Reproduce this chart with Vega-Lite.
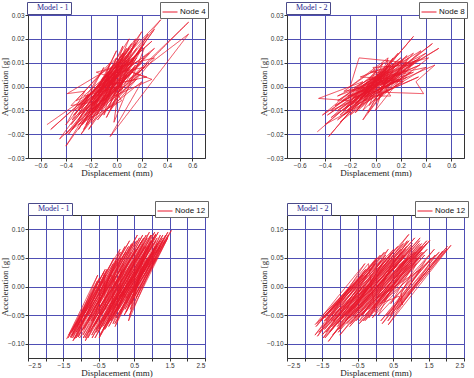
{
"$schema": "https://vega.github.io/schema/vega-lite/v6.json",
"background": "white",
"padding": {"left": 0, "top": 1, "right": 0, "bottom": 0},
"datasets": {
"n4": [{"x":-0.55,"y":-0.016},{"x":-0.2,"y":-0.003},{"x":-0.52,"y":-0.018},{"x":-0.06,"y":0.004},{"x":-0.4,"y":-0.025},{"x":0.1,"y":0.012},{"x":-0.3,"y":-0.008},{"x":0.35,"y":0.028},{"x":-0.1,"y":-0.002},{"x":0.2,"y":0.016},{"x":-0.25,"y":-0.012},{"x":0.05,"y":0.008},{"x":-0.38,"y":-0.02},{"x":0.15,"y":0.018},{"x":-0.15,"y":-0.004},{"x":0.25,"y":0.022},{"x":-0.05,"y":-0.006},{"x":0.57,"y":0.027},{"x":0.1,"y":0.003},{"x":0.57,"y":0.022},{"x":-0.05,"y":-0.021},{"x":0.2,"y":0.002},{"x":-0.2,"y":-0.015},{"x":0.02,"y":0.01},{"x":-0.39,"y":-0.003},{"x":-0.25,"y":-0.002},{"x":-0.4,"y":-0.016},{"x":0.0,"y":0.009},{"x":-0.3,"y":-0.014},{"x":0.1,"y":0.02},{"x":-0.12,"y":-0.008},{"x":0.22,"y":0.012},{"x":0.05,"y":0.002},{"x":0.3,"y":0.016},{"x":-0.1,"y":0.0},{"x":0.24,"y":0.004},{"x":0.12,"y":0.006},{"x":0.28,"y":0.003},{"x":-0.02,"y":-0.004},{"x":0.18,"y":0.014},{"x":-0.35,"y":-0.014},{"x":-0.1,"y":0.008},{"x":-0.3,"y":-0.012},{"x":0.12,"y":0.007},{"x":-0.22,"y":-0.018},{"x":0.0,"y":0.002},{"x":-0.32,"y":-0.006},{"x":-0.05,"y":0.01},{"x":-0.18,"y":-0.011},{"x":0.15,"y":0.009},{"x":-0.08,"y":-0.013},{"x":0.08,"y":0.005},{"x":-0.28,"y":-0.02},{"x":-0.1,"y":-0.005},{"x":0.08,"y":0.016},{"x":-0.2,"y":-0.006},{"x":0.15,"y":0.02},{"x":0.02,"y":-0.002},{"x":0.25,"y":0.01},{"x":-0.15,"y":-0.014},{"x":0.05,"y":0.0},{"x":-0.26,"y":-0.004},{"x":0.1,"y":0.013},{"x":-0.06,"y":-0.009},{"x":0.18,"y":0.005},{"x":-0.35,"y":-0.018},{"x":-0.15,"y":-0.001},{"x":0.0,"y":0.015},{"x":-0.2,"y":-0.008},{"x":0.13,"y":0.011},{"x":-0.12,"y":0.003},{"x":0.05,"y":0.012},{"x":-0.02,"y":-0.015},{"x":0.22,"y":0.016},{"x":-0.18,"y":-0.002},{"x":0.28,"y":0.019},{"x":-0.08,"y":0.002},{"x":0.12,"y":0.015},{"x":-0.33,"y":-0.01},{"x":0.03,"y":0.005},{"x":-0.24,"y":-0.01},{"x":0.2,"y":0.023},{"x":-0.04,"y":0.001},{"x":0.16,"y":0.003},{"x":-0.14,"y":-0.01},{"x":0.08,"y":0.011},{"x":-0.4,"y":-0.02},{"x":-0.12,"y":-0.006},{"x":-0.36,"y":-0.008},{"x":0.0,"y":0.012},{"x":-0.22,"y":-0.011},{"x":0.06,"y":0.002},{"x":-0.16,"y":0.006},{"x":0.3,"y":0.012},{"x":-0.05,"y":-0.01},{"x":0.14,"y":0.012},{"x":-0.27,"y":-0.016},{"x":0.1,"y":0.008},{"x":-0.1,"y":-0.012},{"x":0.05,"y":0.017},{"x":-0.2,"y":-0.01},{"x":0.22,"y":0.008},{"x":-0.08,"y":0.005},{"x":0.04,"y":-0.006},{"x":-0.3,"y":-0.016},{"x":0.0,"y":0.0},{"x":-0.45,"y":-0.022},{"x":0.05,"y":0.014},{"x":-0.3,"y":-0.018},{"x":0.18,"y":0.02},{"x":-0.2,"y":-0.012},{"x":0.3,"y":0.024},{"x":-0.1,"y":-0.006},{"x":0.2,"y":0.01},{"x":-0.25,"y":-0.014},{"x":-0.02,"y":0.006},{"x":-0.36,"y":-0.016},{"x":0.08,"y":0.012},{"x":-0.18,"y":-0.008},{"x":0.12,"y":0.018},{"x":-0.28,"y":-0.008},{"x":0.0,"y":0.004},{"x":-0.22,"y":-0.014},{"x":0.16,"y":0.016},{"x":-0.14,"y":-0.006},{"x":0.26,"y":0.014},{"x":-0.06,"y":0.002},{"x":0.1,"y":0.01},{"x":-0.3,"y":-0.01},{"x":-0.04,"y":0.008},{"x":-0.24,"y":-0.016},{"x":0.14,"y":0.008},{"x":-0.16,"y":-0.012},{"x":0.06,"y":0.014},{"x":-0.34,"y":-0.012},{"x":0.02,"y":0.006},{"x":-0.12,"y":-0.01},{"x":0.22,"y":0.018},{"x":-0.08,"y":-0.004},{"x":0.16,"y":0.012},{"x":-0.26,"y":-0.018},{"x":-0.05,"y":0.004},{"x":0.1,"y":0.016},{"x":-0.18,"y":-0.004},{"x":0.04,"y":0.009},{"x":-0.1,"y":-0.008}],
"n8": [{"x":-0.46,"y":-0.019},{"x":0.0,"y":0.002},{"x":-0.37,"y":-0.021},{"x":0.3,"y":0.021},{"x":-0.1,"y":-0.004},{"x":0.45,"y":0.018},{"x":0.05,"y":0.001},{"x":0.5,"y":0.016},{"x":-0.2,"y":-0.006},{"x":-0.45,"y":-0.005},{"x":-0.1,"y":0.002},{"x":-0.42,"y":-0.012},{"x":0.1,"y":0.006},{"x":-0.25,"y":-0.01},{"x":0.2,"y":0.012},{"x":-0.15,"y":-0.002},{"x":0.38,"y":-0.003},{"x":0.32,"y":0.002},{"x":0.47,"y":0.009},{"x":0.0,"y":-0.002},{"x":-0.3,"y":-0.014},{"x":0.15,"y":0.008},{"x":-0.1,"y":-0.014},{"x":0.25,"y":0.01},{"x":-0.13,"y":0.012},{"x":-0.2,"y":0.0},{"x":0.1,"y":0.012},{"x":-0.05,"y":-0.008},{"x":0.3,"y":0.014},{"x":-0.3,"y":-0.006},{"x":0.05,"y":0.007},{"x":-0.2,"y":-0.012},{"x":0.2,"y":0.005},{"x":-0.08,"y":-0.002},{"x":0.35,"y":0.012},{"x":0.0,"y":-0.006},{"x":0.25,"y":0.004},{"x":-0.35,"y":-0.01},{"x":0.0,"y":0.006},{"x":-0.15,"y":-0.008},{"x":0.15,"y":0.002},{"x":-0.25,"y":-0.002},{"x":0.1,"y":0.011},{"x":0.03,"y":-0.004},{"x":0.4,"y":0.008},{"x":-0.05,"y":0.003},{"x":0.22,"y":0.002},{"x":-0.4,"y":-0.016},{"x":0.05,"y":0.004},{"x":-0.1,"y":-0.01},{"x":0.28,"y":0.009},{"x":-0.02,"y":0.008},{"x":0.12,"y":-0.004},{"x":-0.22,"y":-0.004},{"x":0.3,"y":0.006},{"x":-0.12,"y":-0.005},{"x":0.18,"y":0.014},{"x":-0.28,"y":-0.012},{"x":0.08,"y":0.002},{"x":-0.18,"y":-0.002},{"x":0.36,"y":0.015},{"x":0.02,"y":-0.002},{"x":0.2,"y":0.008},{"x":-0.32,"y":-0.008},{"x":0.1,"y":0.004},{"x":-0.06,"y":-0.011},{"x":0.26,"y":0.012},{"x":-0.16,"y":-0.007},{"x":0.14,"y":0.006},{"x":-0.04,"y":0.006},{"x":0.42,"y":0.012},{"x":0.08,"y":-0.002},{"x":0.34,"y":0.004},{"x":-0.08,"y":-0.006},{"x":0.06,"y":0.01},{"x":-0.24,"y":-0.009},{"x":0.18,"y":0.003},{"x":-0.12,"y":0.004},{"x":0.22,"y":0.011},{"x":-0.38,"y":-0.012},{"x":-0.02,"y":0.001},{"x":-0.26,"y":-0.006},{"x":0.12,"y":0.009},{"x":0.0,"y":-0.01},{"x":0.3,"y":0.01},{"x":-0.14,"y":-0.001},{"x":0.04,"y":0.005},{"x":-0.2,"y":-0.008},{"x":0.16,"y":0.01},{"x":-0.1,"y":-0.003},{"x":0.0,"y":0.0},{"x":-0.3,"y":-0.01},{"x":0.2,"y":0.01},{"x":-0.2,"y":-0.004},{"x":0.35,"y":0.009},{"x":-0.05,"y":0.0},{"x":0.25,"y":0.013},{"x":-0.25,"y":-0.012},{"x":0.05,"y":0.003},{"x":-0.15,"y":-0.01},{"x":0.18,"y":0.006},{"x":-0.35,"y":-0.013},{"x":0.1,"y":0.008},{"x":-0.1,"y":-0.006},{"x":0.4,"y":0.014},{"x":0.0,"y":0.003},{"x":0.28,"y":0.006},{"x":-0.22,"y":-0.01},{"x":0.14,"y":0.012},{"x":-0.05,"y":-0.004},{"x":0.24,"y":0.007},{"x":-0.3,"y":-0.004},{"x":0.06,"y":0.006},{"x":-0.16,"y":-0.011},{"x":0.32,"y":0.011},{"x":-0.08,"y":0.001},{"x":0.2,"y":0.003},{"x":-0.18,"y":-0.005},{"x":0.1,"y":0.002},{"x":-0.28,"y":-0.015},{"x":0.0,"y":0.0}],
"n12a": [{"x":-1.41,"y":-0.092},{"x":-0.53,"y":0.02},{"x":-1.25,"y":-0.085},{"x":-0.07,"y":0.05},{"x":-1.23,"y":-0.095},{"x":0.24,"y":0.07},{"x":-0.81,"y":-0.06},{"x":0.59,"y":0.09},{"x":-0.89,"y":-0.09},{"x":0.65,"y":0.085},{"x":-0.64,"y":-0.07},{"x":0.93,"y":0.095},{"x":-0.52,"y":-0.08},{"x":0.99,"y":0.09},{"x":-0.38,"y":-0.075},{"x":1.05,"y":0.085},{"x":-0.16,"y":-0.06},{"x":1.55,"y":0.098},{"x":0.55,"y":-0.02},{"x":1.37,"y":0.08},{"x":0.22,"y":-0.05},{"x":1.24,"y":0.09},{"x":-0.04,"y":-0.07},{"x":0.81,"y":0.06},{"x":0.34,"y":-0.06},{"x":1.24,"y":0.07},{"x":-0.31,"y":-0.04},{"x":-0.36,"y":0.025},{"x":-1.27,"y":-0.08},{"x":0.26,"y":0.06},{"x":-1.08,"y":-0.088},{"x":0.43,"y":0.075},{"x":-0.95,"y":-0.085},{"x":0.72,"y":0.08},{"x":-0.69,"y":-0.09},{"x":0.79,"y":0.07},{"x":-0.24,"y":-0.05},{"x":1.03,"y":0.075},{"x":0.04,"y":-0.04},{"x":1.06,"y":0.06},{"x":0.27,"y":-0.03},{"x":1.3,"y":0.085},{"x":-0.1,"y":-0.065},{"x":0.54,"y":0.05},{"x":-1.14,"y":-0.09},{"x":-0.27,"y":0.03},{"x":-1.12,"y":-0.07},{"x":0.0,"y":0.045},{"x":-0.71,"y":-0.06},{"x":0.55,"y":0.065},{"x":-0.7,"y":-0.085},{"x":0.51,"y":0.04},{"x":-0.36,"y":-0.06},{"x":1.12,"y":0.08},{"x":0.07,"y":-0.05},{"x":1.39,"y":0.09},{"x":0.33,"y":-0.035},{"x":1.14,"y":0.05},{"x":0.1,"y":-0.02},{"x":0.13,"y":0.03},{"x":-0.79,"y":-0.05},{"x":0.37,"y":0.08},{"x":-1.24,"y":-0.09},{"x":-0.54,"y":0.01},{"x":-1.35,"y":-0.085},{"x":0.1,"y":0.065},{"x":-0.88,"y":-0.095},{"x":0.74,"y":0.09},{"x":-0.44,"y":-0.05},{"x":1.08,"y":0.095},{"x":-0.49,"y":-0.09},{"x":0.79,"y":0.05},{"x":-0.33,"y":-0.075},{"x":1.09,"y":0.07},{"x":0.3,"y":-0.02},{"x":0.0,"y":0.0},{"x":-0.15,"y":0.02},{"x":-1.29,"y":-0.09},{"x":-0.37,"y":0.01},{"x":-1.08,"y":-0.075},{"x":0.48,"y":0.075},{"x":-0.51,"y":-0.04},{"x":0.84,"y":0.09},{"x":-0.49,"y":-0.07},{"x":1.11,"y":0.092},{"x":-0.09,"y":-0.05},{"x":1.22,"y":0.08},{"x":0.47,"y":-0.01},{"x":1.09,"y":0.05},{"x":-0.13,"y":-0.03},{"x":-0.05,"y":0.02},{"x":-1.04,"y":-0.09},{"x":-1.1,"y":-0.085},{"x":0.57,"y":0.08},{"x":-0.94,"y":-0.09},{"x":0.77,"y":0.085},{"x":-0.77,"y":-0.08},{"x":0.97,"y":0.09},{"x":-0.58,"y":-0.075},{"x":1.11,"y":0.09},{"x":-0.39,"y":-0.07},{"x":1.15,"y":0.085},{"x":-0.25,"y":-0.065},{"x":1.31,"y":0.09},{"x":-0.02,"y":-0.055},{"x":1.3,"y":0.08},{"x":0.24,"y":-0.04},{"x":1.45,"y":0.095},{"x":0.42,"y":-0.03},{"x":0.84,"y":0.07},{"x":-0.66,"y":-0.06},{"x":-0.09,"y":0.04},{"x":-1.3,"y":-0.088},{"x":-0.32,"y":0.03},{"x":-1.24,"y":-0.075},{"x":0.11,"y":0.06},{"x":-1.19,"y":-0.092},{"x":0.34,"y":0.07},{"x":-0.93,"y":-0.075},{"x":0.41,"y":0.06},{"x":-0.81,"y":-0.09},{"x":0.76,"y":0.075},{"x":-0.57,"y":-0.08},{"x":0.97,"y":0.08},{"x":-0.47,"y":-0.085},{"x":1.18,"y":0.095},{"x":-0.22,"y":-0.07},{"x":1.16,"y":0.075},{"x":-0.05,"y":-0.065},{"x":1.47,"y":0.09},{"x":0.27,"y":-0.045},{"x":0.88,"y":0.05},{"x":-0.21,"y":-0.04},{"x":0.21,"y":0.04},{"x":-0.53,"y":-0.03},{"x":-0.3,"y":0.02},{"x":-1.37,"y":-0.09},{"x":-0.48,"y":0.015},{"x":-1.14,"y":-0.08},{"x":0.13,"y":0.05},{"x":-0.58,"y":-0.065},{"x":0.87,"y":0.085},{"x":-0.61,"y":-0.09},{"x":0.92,"y":0.07},{"x":0.39,"y":-0.04},{"x":1.45,"y":0.085},{"x":0.37,"y":-0.05},{"x":1.14,"y":0.07},{"x":-0.11,"y":-0.04},{"x":0.23,"y":0.03}],
"n12b": [{"x":-1.71,"y":-0.067},{"x":-0.3,"y":0.04},{"x":-1.64,"y":-0.087},{"x":0.25,"y":0.06},{"x":-1.45,"y":-0.06},{"x":0.51,"y":0.065},{"x":-1.33,"y":-0.096},{"x":0.94,"y":0.091},{"x":-1.03,"y":-0.05},{"x":0.75,"y":0.06},{"x":-1.08,"y":-0.07},{"x":1.04,"y":0.075},{"x":-0.63,"y":-0.05},{"x":1.3,"y":0.075},{"x":-0.49,"y":-0.055},{"x":1.54,"y":0.081},{"x":-0.1,"y":-0.04},{"x":0.93,"y":0.05},{"x":-1.23,"y":-0.05},{"x":-0.28,"y":0.03},{"x":-1.55,"y":-0.06},{"x":0.29,"y":0.055},{"x":-1.3,"y":-0.08},{"x":0.9,"y":0.08},{"x":-0.45,"y":-0.06},{"x":1.35,"y":0.06},{"x":0.13,"y":-0.03},{"x":0.66,"y":-0.017},{"x":0.76,"y":-0.032},{"x":0.72,"y":-0.01},{"x":1.69,"y":0.055},{"x":0.36,"y":-0.067},{"x":2.13,"y":0.072},{"x":0.6,"y":-0.04},{"x":1.9,"y":0.062},{"x":0.15,"y":-0.06},{"x":1.58,"y":0.05},{"x":0.08,"y":-0.05},{"x":1.01,"y":0.065},{"x":-0.85,"y":-0.06},{"x":0.2,"y":0.04},{"x":-1.44,"y":-0.075},{"x":0.03,"y":0.05},{"x":-1.31,"y":-0.045},{"x":-0.25,"y":0.02},{"x":-1.48,"y":-0.09},{"x":0.88,"y":0.07},{"x":-0.55,"y":-0.04},{"x":0.84,"y":0.055},{"x":-0.71,"y":-0.065},{"x":1.33,"y":0.07},{"x":-0.28,"y":-0.05},{"x":1.18,"y":0.05},{"x":0.43,"y":-0.03},{"x":1.66,"y":0.065},{"x":-0.09,"y":-0.055},{"x":1.15,"y":0.06},{"x":-0.76,"y":-0.045},{"x":0.36,"y":0.065},{"x":-1.71,"y":-0.085},{"x":-0.7,"y":0.0},{"x":-1.48,"y":-0.05},{"x":0.01,"y":0.045},{"x":-1.06,"y":-0.065},{"x":1.11,"y":0.085},{"x":-1.21,"y":-0.085},{"x":1.25,"y":0.08},{"x":-0.73,"y":-0.07},{"x":1.31,"y":0.065},{"x":-0.3,"y":-0.06},{"x":1.15,"y":0.04},{"x":0.43,"y":-0.05},{"x":2.03,"y":0.07},{"x":0.19,"y":-0.065},{"x":1.28,"y":0.03},{"x":0.05,"y":-0.02},{"x":0.53,"y":0.05},{"x":-1.2,"y":-0.06},{"x":-0.35,"y":0.0},{"x":-1.48,"y":-0.07},{"x":0.5,"y":0.06},{"x":-1.05,"y":-0.08},{"x":0.6,"y":0.04},{"x":0.0,"y":0.0},{"x":-1.6,"y":-0.08},{"x":0.63,"y":0.07},{"x":-1.51,"y":-0.085},{"x":0.79,"y":0.075},{"x":-1.23,"y":-0.07},{"x":0.86,"y":0.065},{"x":-1.04,"y":-0.075},{"x":1.26,"y":0.085},{"x":-0.81,"y":-0.065},{"x":1.1,"y":0.06},{"x":-0.59,"y":-0.055},{"x":1.45,"y":0.08},{"x":-0.38,"y":-0.05},{"x":1.3,"y":0.06},{"x":-0.35,"y":-0.06},{"x":1.39,"y":0.055},{"x":-0.01,"y":-0.045},{"x":-0.2,"y":0.04},{"x":-1.68,"y":-0.07},{"x":0.14,"y":0.055},{"x":-1.44,"y":-0.055},{"x":0.16,"y":0.045},{"x":-1.25,"y":-0.06},{"x":0.43,"y":0.05},{"x":-1.43,"y":-0.09},{"x":0.95,"y":0.08},{"x":-0.83,"y":-0.05},{"x":0.79,"y":0.055},{"x":-1.01,"y":-0.085},{"x":1.24,"y":0.075},{"x":-0.55,"y":-0.06},{"x":1.44,"y":0.075},{"x":-0.46,"y":-0.065},{"x":1.23,"y":0.05},{"x":-0.19,"y":-0.055},{"x":0.81,"y":0.045},{"x":-0.74,"y":-0.055},{"x":0.28,"y":0.05},{"x":-1.4,"y":-0.06},{"x":-0.35,"y":0.02},{"x":-1.66,"y":-0.065},{"x":0.0,"y":0.04},{"x":-1.4,"y":-0.08},{"x":0.71,"y":0.065},{"x":-0.94,"y":-0.055},{"x":1.03,"y":0.07},{"x":-0.56,"y":-0.045},{"x":1.28,"y":0.07},{"x":-0.2,"y":-0.04},{"x":1.46,"y":0.065},{"x":0.24,"y":-0.025},{"x":1.8,"y":0.06},{"x":0.33,"y":-0.05},{"x":2.01,"y":0.065},{"x":0.35,"y":-0.06},{"x":1.41,"y":0.045}]
},
"columns": 2,
"spacing": {"row": 57, "column": 82},
"bounds": "flush",
"resolve": {
  "scale": {"x": "independent", "y": "independent", "color": "independent", "strokeDash": "independent"},
  "legend": {"color": "independent", "strokeDash": "independent"}
},
"config": {
  "view": {"stroke": "#333333", "strokeWidth": 1},
  "axis": {
    "grid": true, "gridColor": "#4e4eb4", "gridWidth": 1, "gridOpacity": 1,
    "domainColor": "#333333", "tickColor": "#333333", "tickSize": 3,
    "labelFont": "Liberation Sans", "labelFontSize": 6.5, "labelColor": "#333333", "labelPadding": 1,
    "titleFont": "Liberation Serif", "titleFontSize": 9, "titleFontWeight": "normal", "titleColor": "#222222"
  },
  "axisX": {"titlePadding": -1, "labelPadding": 1.5, "gridColor": "#4e4eb4"},
  "axisY": {"titlePadding": -2, "gridColor": "#4e4eb4"},
  "legend": {"orient": "none", "title": null, "fillColor": "white", "padding": 2}
},
"concat": [
{
  "width": 177, "height": 143,
  "data": {"name": "n4"},
  "mark": {"type": "line", "strokeWidth": 0.8},
  "encoding": {
    "x": {"field": "x", "type": "quantitative", "scale": {"domain": [-0.7, 0.7], "nice": false, "zero": false},
          "axis": {"values": [-0.6, -0.4, -0.2, 0, 0.2, 0.4, 0.6], "format": ".1f", "title": "Displacement (mm)"}},
    "y": {"field": "y", "type": "quantitative", "scale": {"domain": [-0.03, 0.03], "nice": false, "zero": false},
          "axis": {"values": [-0.03, -0.02, -0.01, 0, 0.01, 0.02, 0.03], "format": ".2f", "title": "Acceleration [g]"}},
    "order": {"value": null},
    "color": {"datum": "Node 4", "scale": {"range": ["#e8182c"]},
              "legend": {"legendX": 132, "legendY": -13, "symbolType": "stroke", "symbolSize": 225, "symbolStrokeWidth": 1, "strokeColor": "#666666", "labelFont": "Liberation Sans", "labelFontSize": 8, "labelColor": "#111111", "labelOffset": 2}},
    "strokeDash": {"datum": "Model - 1", "scale": {"range": [[1, 0]]},
              "legend": {"legendX": -1, "legendY": -13, "symbolSize": 0.01, "symbolOpacity": 0, "symbolStrokeWidth": 0, "labelOffset": 0, "strokeColor": "#4a4a8a", "labelFont": "Liberation Serif", "labelFontSize": 8, "labelColor": "#23238e"}}
  }
},
{
  "width": 177, "height": 143,
  "data": {"name": "n8"},
  "mark": {"type": "line", "strokeWidth": 0.8},
  "encoding": {
    "x": {"field": "x", "type": "quantitative", "scale": {"domain": [-0.7, 0.7], "nice": false, "zero": false},
          "axis": {"values": [-0.6, -0.4, -0.2, 0, 0.2, 0.4, 0.6], "format": ".1f", "title": "Displacement (mm)"}},
    "y": {"field": "y", "type": "quantitative", "scale": {"domain": [-0.03, 0.03], "nice": false, "zero": false},
          "axis": {"values": [-0.03, -0.02, -0.01, 0, 0.01, 0.02, 0.03], "format": ".2f", "title": "Acceleration [g]"}},
    "order": {"value": null},
    "color": {"datum": "Node 8", "scale": {"range": ["#e8182c"]},
              "legend": {"legendX": 132, "legendY": -13, "symbolType": "stroke", "symbolSize": 225, "symbolStrokeWidth": 1, "strokeColor": "#666666", "labelFont": "Liberation Sans", "labelFontSize": 8, "labelColor": "#111111", "labelOffset": 2}},
    "strokeDash": {"datum": "Model - 2", "scale": {"range": [[1, 0]]},
              "legend": {"legendX": -1, "legendY": -13, "symbolSize": 0.01, "symbolOpacity": 0, "symbolStrokeWidth": 0, "labelOffset": 0, "strokeColor": "#4a4a8a", "labelFont": "Liberation Serif", "labelFontSize": 8, "labelColor": "#23238e"}}
  }
},
{
  "width": 177, "height": 143,
  "data": {"name": "n12a"},
  "mark": {"type": "line", "strokeWidth": 0.8},
  "encoding": {
    "x": {"field": "x", "type": "quantitative", "scale": {"domain": [-2.5, 2.5], "nice": false, "zero": false},
          "axis": {"values": [-2.5, -2, -1.5, -1, -0.5, 0, 0.5, 1, 1.5, 2, 2.5], "format": ".1f", "title": "Displacement (mm)"}},
    "y": {"field": "y", "type": "quantitative", "scale": {"domain": [-0.125, 0.125], "nice": false, "zero": false},
          "axis": {"values": [-0.1, -0.05, 0, 0.05, 0.1], "format": ".2f", "title": "Acceleration [g]"}},
    "order": {"value": null},
    "color": {"datum": "Node 12", "scale": {"range": ["#e8182c"]},
              "legend": {"legendX": 127, "legendY": -14, "symbolType": "stroke", "symbolSize": 225, "symbolStrokeWidth": 1, "strokeColor": "#666666", "labelFont": "Liberation Sans", "labelFontSize": 8, "labelColor": "#111111", "labelOffset": 2}},
    "strokeDash": {"datum": "Model - 1", "scale": {"range": [[1, 0]]},
              "legend": {"legendX": 0, "legendY": -12, "symbolSize": 0.01, "symbolOpacity": 0, "symbolStrokeWidth": 0, "labelOffset": 0, "strokeColor": "#4a4a8a", "labelFont": "Liberation Serif", "labelFontSize": 8, "labelColor": "#23238e"}}
  }
},
{
  "width": 177, "height": 143,
  "data": {"name": "n12b"},
  "mark": {"type": "line", "strokeWidth": 0.8},
  "encoding": {
    "x": {"field": "x", "type": "quantitative", "scale": {"domain": [-2.5, 2.5], "nice": false, "zero": false},
          "axis": {"values": [-2.5, -2, -1.5, -1, -0.5, 0, 0.5, 1, 1.5, 2, 2.5], "format": ".1f", "title": "Displacement (mm)"}},
    "y": {"field": "y", "type": "quantitative", "scale": {"domain": [-0.125, 0.125], "nice": false, "zero": false},
          "axis": {"values": [-0.1, -0.05, 0, 0.05, 0.1], "format": ".2f", "title": "Acceleration [g]"}},
    "order": {"value": null},
    "color": {"datum": "Node 12", "scale": {"range": ["#e8182c"]},
              "legend": {"legendX": 128, "legendY": -14, "symbolType": "stroke", "symbolSize": 225, "symbolStrokeWidth": 1, "strokeColor": "#666666", "labelFont": "Liberation Sans", "labelFontSize": 8, "labelColor": "#111111", "labelOffset": 2}},
    "strokeDash": {"datum": "Model - 2", "scale": {"range": [[1, 0]]},
              "legend": {"legendX": 0, "legendY": -12, "symbolSize": 0.01, "symbolOpacity": 0, "symbolStrokeWidth": 0, "labelOffset": 0, "strokeColor": "#4a4a8a", "labelFont": "Liberation Serif", "labelFontSize": 8, "labelColor": "#23238e"}}
  }
}
]
}
